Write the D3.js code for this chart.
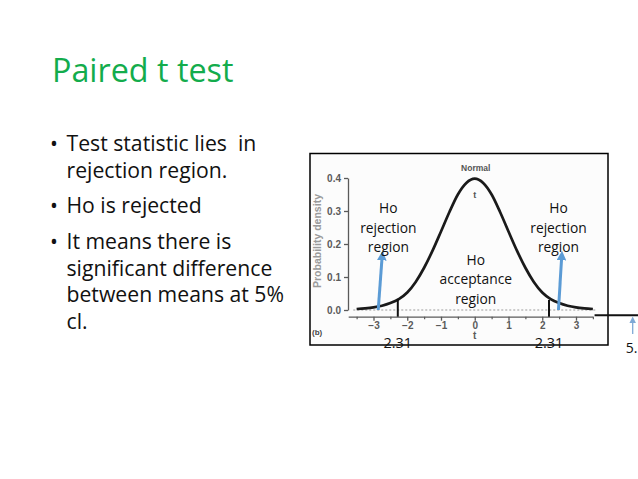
<!DOCTYPE html>
<html>
<head>
<meta charset="utf-8">
<script src="https://cdn.jsdelivr.net/npm/d3@7"></script>
<style>
  html, body { margin: 0; padding: 0; background: #ffffff; }
  svg { display: block; }
  text { white-space: pre; }
</style>
</head>
<body>
<svg id="chart" width="638" height="479"></svg>
<script>
// ---------- data ----------
const titleText = "Paired t test";
const bulletLines = [
  ["Test statistic lies  in", "rejection region."],
  ["Ho is rejected"],
  ["It means there is", "significant difference", "between means at 5%", "cl."]
];
const yTicks = [0, 0.1, 0.2, 0.3, 0.4];
const tTicks = [-3, -2, -1, 0, 1, 2, 3];
const tMinorTicks = [-3.5, -2.5, -1.5, -0.5, 0.5, 1.5, 2.5, 3.5];
const curveT = [-3.5, -3.25, -3, -2.75, -2.5, -2.25, -2, -1.75, -1.5, -1.25, -1, -0.75, -0.5, -0.25, 0,
                0.25, 0.5, 0.75, 1, 1.25, 1.5, 1.75, 2, 2.25, 2.5, 2.75, 3, 3.25, 3.5];
const curveDensity = [0.003, 0.005, 0.008, 0.013, 0.021, 0.033, 0.053, 0.085, 0.128, 0.180, 0.238, 0.297, 0.350, 0.385, 0.398,
                      0.385, 0.350, 0.297, 0.238, 0.180, 0.128, 0.085, 0.053, 0.033, 0.021, 0.013, 0.008, 0.005, 0.003];
const criticalT = [-2.28, 2.2];
const criticalDensity = [0.034, 0.030];
const criticalLabels = ["2.31", "2.31"];
const arrowStartT = [-2.86, 2.48];
const arrowEndT = [-2.74, 2.58];
const arrowTopDensity = 0.168;
const regionLabelT = [-2.56, 0.03, 2.48];
const regionLabelDensity = [0.293, 0.136, 0.293];
const regionLabels = [["Ho", "rejection", "region"], ["Ho", "acceptance", "region"], ["Ho", "rejection", "region"]];
const testStatT = 4.68;
const testStatLabel = "5.";

// ---------- drawing ----------
const svg = d3.select("#chart");
svg.append("rect").attr("width", 638).attr("height", 479).attr("fill", "#ffffff");

const slideFont = "'Open Sans', 'Noto Sans', sans-serif";

// Title
svg.append("text")
  .attr("x", 52).attr("y", 82)
  .attr("font-family", slideFont).attr("font-size", 32.3)
  .attr("fill", "#13ac4c")
  .text(titleText);

// Bullets
const bulletTop = [151, 212.5, 249];
const lineGap = 26.5;
bulletLines.forEach((lines, i) => {
  svg.append("text")
    .attr("x", 50).attr("y", bulletTop[i])
    .attr("font-family", slideFont).attr("font-size", 21)
    .attr("fill", "#111").text("•");
  lines.forEach((ln, j) => {
    svg.append("text")
      .attr("x", 66.5).attr("y", bulletTop[i] + j * lineGap)
      .attr("font-family", slideFont).attr("font-size", 21.2)
      .attr("fill", "#111").text(ln);
  });
});

// Chart image box
svg.append("rect")
  .attr("x", 310).attr("y", 153.5).attr("width", 298).attr("height", 191.5)
  .attr("fill", "#fcfcfc").attr("stroke", "#000").attr("stroke-width", 1.5);

const x = d3.scaleLinear().domain([-3, 3]).range([373.5, 576]);
const y = d3.scaleLinear().domain([0, 0.4]).range([310, 178]);
const xAxisY = 316.7;
const yAxisX = 348;
const axisFont = "'Liberation Sans', Arial, sans-serif";
const axisColor = "#5a5a5a";

// y axis
const gy = svg.append("g")
  .attr("transform", `translate(${yAxisX},0)`)
  .call(d3.axisLeft(y).tickValues(yTicks).tickFormat(d3.format(".1f")).tickSize(4).tickSizeOuter(0).tickPadding(3));
gy.select(".domain").attr("stroke", axisColor).attr("stroke-width", 1.3);
gy.selectAll(".tick line").attr("stroke", axisColor).attr("stroke-width", 1.3);
gy.selectAll(".tick text").attr("fill", axisColor).attr("font-family", axisFont).attr("font-size", 10).attr("font-weight", "bold");

// x axis (extended domain line)
const xAxisScale = x.copy().domain([-3.75, 3.5]).range([x(-3.75), x(3.5)]);
const gx = svg.append("g")
  .attr("transform", `translate(0,${xAxisY})`)
  .call(d3.axisBottom(xAxisScale).tickValues(tTicks).tickFormat(d => d3.format("d")(d).replace("-", "\u2212")).tickSize(4).tickSizeOuter(0).tickPadding(1));
gx.select(".domain").attr("stroke", axisColor).attr("stroke-width", 1.3);
gx.selectAll(".tick line").attr("stroke", axisColor).attr("stroke-width", 1.3);
gx.selectAll(".tick text").attr("fill", axisColor).attr("font-family", axisFont).attr("font-size", 10).attr("font-weight", "bold");
const gxm = svg.append("g")
  .attr("transform", `translate(0,${xAxisY})`)
  .call(d3.axisBottom(xAxisScale).tickValues(tMinorTicks).tickFormat("").tickSize(2.5).tickSizeOuter(0));
gxm.select(".domain").remove();
gxm.selectAll(".tick line").attr("stroke", axisColor).attr("stroke-width", 1.2);

// axis labels
svg.append("text")
  .attr("transform", `translate(320.5,241) rotate(-90)`)
  .attr("text-anchor", "middle")
  .attr("font-family", axisFont).attr("font-size", 10.5).attr("font-weight", "bold")
  .attr("fill", "#9a9a9a").text("Probability density");
svg.append("text")
  .attr("x", x(0)).attr("y", 339)
  .attr("text-anchor", "middle")
  .attr("font-family", axisFont).attr("font-size", 10).attr("font-weight", "bold")
  .attr("fill", axisColor).text("t");
svg.append("text")
  .attr("x", 312).attr("y", 335)
  .attr("font-family", axisFont).attr("font-size", 8).attr("font-weight", "bold")
  .attr("fill", "#444").text("(b)");
svg.append("text")
  .attr("x", x(0) + 1).attr("y", 171)
  .attr("text-anchor", "middle")
  .attr("font-family", axisFont).attr("font-size", 8.5).attr("font-weight", "bold")
  .attr("fill", "#555").text("Normal");
svg.append("text")
  .attr("x", x(0)).attr("y", 197.5)
  .attr("text-anchor", "middle")
  .attr("font-family", axisFont).attr("font-size", 9).attr("font-weight", "bold")
  .attr("fill", "#555").text("t");

// zero dotted line
svg.append("line")
  .attr("x1", x(-3.6)).attr("x2", x(3.6))
  .attr("y1", y(0)).attr("y2", y(0))
  .attr("stroke", "#9a9a9a").attr("stroke-width", 1.1).attr("stroke-dasharray", "2,2");

// density curve
const curvePts = curveT.map((t, i) => [t, curveDensity[i]]);
svg.append("path")
  .datum(curvePts)
  .attr("fill", "none").attr("stroke", "#1a1a1a").attr("stroke-width", 2.7)
  .attr("d", d3.line().x(d => x(d[0])).y(d => y(d[1])).curve(d3.curveMonotoneX));

// critical value lines
criticalT.forEach((t, i) => {
  svg.append("line")
    .attr("x1", x(t)).attr("x2", x(t))
    .attr("y1", xAxisY).attr("y2", y(criticalDensity[i]))
    .attr("stroke", "#111").attr("stroke-width", 2);
  svg.append("text")
    .attr("x", x(t)).attr("y", 347.5)
    .attr("text-anchor", "middle")
    .attr("font-family", slideFont).attr("font-size", 14.5)
    .attr("fill", "#111").text(criticalLabels[i]);
});

// arrows
const defs = svg.append("defs");
defs.append("marker")
  .attr("id", "arrowBlue").attr("viewBox", "0 0 10 10")
  .attr("refX", 6).attr("refY", 5)
  .attr("markerWidth", 3.2).attr("markerHeight", 3.2)
  .attr("orient", "auto")
  .append("path").attr("d", "M0,0 L10,5 L0,10 z").attr("fill", "#5b9bd5");
defs.append("marker")
  .attr("id", "arrowBlueThin").attr("viewBox", "0 0 10 10")
  .attr("refX", 6).attr("refY", 5)
  .attr("markerWidth", 5).attr("markerHeight", 5)
  .attr("orient", "auto")
  .append("path").attr("d", "M0,0 L10,5 L0,10 z").attr("fill", "#7fa9d6");

arrowStartT.forEach((t, i) => {
  svg.append("line")
    .attr("x1", x(t)).attr("y1", y(0))
    .attr("x2", x(arrowEndT[i])).attr("y2", y(arrowTopDensity))
    .attr("stroke", "#5b9bd5").attr("stroke-width", 3)
    .attr("marker-end", "url(#arrowBlue)");
});

// region labels
regionLabels.forEach((lines, i) => {
  lines.forEach((ln, j) => {
    svg.append("text")
      .attr("x", x(regionLabelT[i])).attr("y", y(regionLabelDensity[i]) + j * 19.3)
      .attr("text-anchor", "middle")
      .attr("font-family", slideFont).attr("font-size", 13.8)
      .attr("fill", "#111").text(ln);
  });
});

// test statistic line outside the plot
svg.append("line")
  .attr("x1", x(3.55)).attr("x2", 638)
  .attr("y1", xAxisY - 1.5).attr("y2", xAxisY - 1.5)
  .attr("stroke", "#111").attr("stroke-width", 2);
svg.append("line")
  .attr("x1", x(testStatT)).attr("x2", x(testStatT))
  .attr("y1", 334).attr("y2", 319)
  .attr("stroke", "#7fa9d6").attr("stroke-width", 1.3)
  .attr("marker-end", "url(#arrowBlueThin)");
svg.append("text")
  .attr("x", x(testStatT) - 7).attr("y", 353)
  .attr("font-family", slideFont).attr("font-size", 14)
  .attr("fill", "#111").text(testStatLabel);
</script>
</body>
</html>
